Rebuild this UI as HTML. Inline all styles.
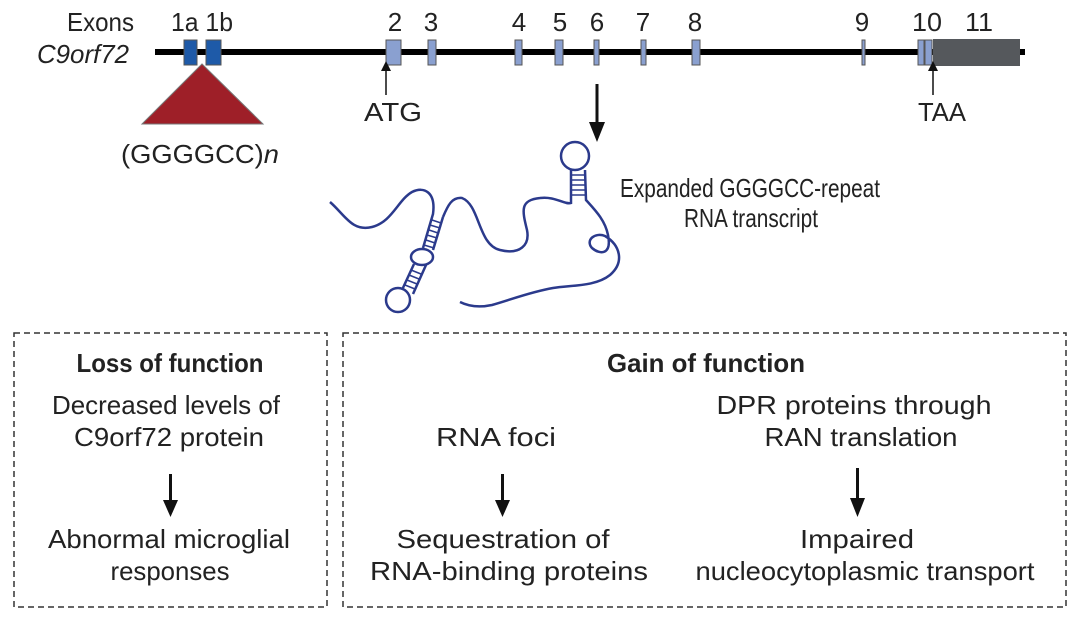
<!DOCTYPE html>
<html><head><meta charset="utf-8"><style>
html,body{margin:0;padding:0;background:#fff;}
svg{display:block;}
text{font-family:"Liberation Sans",sans-serif;fill:#222;font-size:26px;}
</style></head><body>
<svg width="1079" height="622" viewBox="0 0 1079 622" xmlns="http://www.w3.org/2000/svg">
<defs><marker id="ah" markerWidth="10" markerHeight="10" refX="5" refY="5" orient="auto" markerUnits="userSpaceOnUse"><path d="M0,0 L10,5 L0,10 z" fill="#111"/></marker></defs>
<!-- labels -->
<text x="67" y="31" textLength="67" lengthAdjust="spacingAndGlyphs">Exons</text>
<text x="37" y="63" font-style="italic" textLength="92" lengthAdjust="spacingAndGlyphs">C9orf72</text>
<text x="171" y="31" textLength="62" lengthAdjust="spacingAndGlyphs">1a 1b</text>
<g font-size="25">
<text x="395" y="31" text-anchor="middle">2</text>
<text x="431" y="31" text-anchor="middle">3</text>
<text x="519" y="31" text-anchor="middle">4</text>
<text x="560" y="31" text-anchor="middle">5</text>
<text x="597" y="31" text-anchor="middle">6</text>
<text x="643" y="31" text-anchor="middle">7</text>
<text x="695" y="31" text-anchor="middle">8</text>
<text x="862" y="31" text-anchor="middle">9</text>
<text x="927" y="31" text-anchor="middle" textLength="30" lengthAdjust="spacingAndGlyphs">10</text>
<text x="979" y="31" text-anchor="middle" textLength="28" lengthAdjust="spacingAndGlyphs">11</text>
</g>
<!-- gene line -->
<rect x="155" y="49" width="870" height="6" fill="#000"/>
<g stroke="#555" stroke-width="1">
<rect x="184" y="40" width="13" height="25" fill="#1e5aa8"/>
<rect x="206" y="40" width="15" height="25" fill="#1e5aa8"/>
<rect x="386" y="40" width="15" height="25" fill="#8aa0d0"/>
<rect x="428" y="40" width="8" height="25" fill="#8aa0d0"/>
<rect x="515" y="40" width="7" height="25" fill="#8aa0d0"/>
<rect x="555" y="40" width="8" height="25" fill="#8aa0d0"/>
<rect x="594" y="40" width="5" height="25" fill="#8aa0d0"/>
<rect x="641" y="40" width="5" height="25" fill="#8aa0d0"/>
<rect x="692" y="40" width="8" height="25" fill="#8aa0d0"/>
<rect x="862" y="40" width="3" height="25" fill="#8aa0d0"/>
<rect x="918" y="40" width="6" height="25" fill="#8aa0d0"/>
<rect x="925" y="40" width="7" height="25" fill="#8aa0d0"/>
</g>
<rect x="933" y="39" width="87" height="27" fill="#55585c"/>
<!-- triangle -->
<polygon points="202,64 142,124 263,124" fill="#9e1f28" stroke="#777" stroke-width="1"/>
<text x="200" y="163" text-anchor="middle" textLength="158" lengthAdjust="spacingAndGlyphs">(GGGGCC)<tspan font-style="italic">n</tspan></text>
<!-- ATG / TAA -->
<line x1="386" y1="95" x2="386" y2="66" stroke="#111" stroke-width="1.5" marker-end="url(#ah)"/>
<text x="393" y="121" text-anchor="middle" textLength="58" lengthAdjust="spacingAndGlyphs">ATG</text>
<line x1="933" y1="95" x2="933" y2="66" stroke="#111" stroke-width="1.5" marker-end="url(#ah)"/>
<text x="942" y="121" text-anchor="middle" textLength="48" lengthAdjust="spacingAndGlyphs">TAA</text>
<!-- down arrow -->
<line x1="597" y1="84" x2="597" y2="128" stroke="#111" stroke-width="3"/>
<polygon points="589,122 605,122 597,142" fill="#111"/>
<text x="750" y="197" text-anchor="middle" textLength="260" lengthAdjust="spacingAndGlyphs">Expanded GGGGCC-repeat</text>
<text x="751" y="227" text-anchor="middle" textLength="134" lengthAdjust="spacingAndGlyphs">RNA transcript</text>
<!-- RNA -->
<g fill="none" stroke="#2b3a8c" stroke-width="2.5">
<path d="M330,202 C345,215 352,232 372,227 C392,222 398,200 412,192 C424,186 436,192 433,214 L423,248"/>
<path d="M443,217 C448,205 452,197 462,198 C480,205 478,245 500,250 C520,255 530,245 527,230 C522,210 520,200 540,198 C555,196 565,205 571,203 L571,170"/>
<path d="M443,217 L433,250"/>
<ellipse cx="422" cy="257" rx="11" ry="8"/>
<path d="M414,264 L402,290 M426,265 L413,294"/>
<circle cx="398" cy="300" r="12"/>
<circle cx="575" cy="156" r="14"/>
<path d="M585,170 L586,200 C595,210 605,220 608,235 C612,255 600,255 592,248 C585,240 595,232 605,236 C620,245 625,262 610,275 C595,287 570,285 553,288 C530,292 510,300 492,305 C478,308 468,306 460,302"/>
<g stroke-width="1.5">
<path d="M432,220 L441,223 M430,225 L440,228 M429,230 L438,233 M427,235 L437,238 M426,240 L435,243 M424,245 L434,248"/>
<path d="M411,270 L421,274 M409,275 L419,279 M407,280 L417,284 M405,285 L415,289"/>
<path d="M571,175 L585,175 M571,180 L585,180 M571,185 L585,185 M571,190 L585,190 M571,195 L585,195"/>
</g>
</g>
<!-- boxes -->
<rect x="14" y="333" width="313" height="274" fill="none" stroke="#333" stroke-width="1.5" stroke-dasharray="6,4"/>
<rect x="343" y="333" width="723" height="274" fill="none" stroke="#333" stroke-width="1.5" stroke-dasharray="6,4"/>
<text x="170" y="372" text-anchor="middle" font-weight="bold" textLength="187" lengthAdjust="spacingAndGlyphs">Loss of function</text>
<text x="166" y="414" text-anchor="middle" textLength="228" lengthAdjust="spacingAndGlyphs">Decreased levels of</text>
<text x="169" y="446" text-anchor="middle" textLength="190" lengthAdjust="spacingAndGlyphs">C9orf72 protein</text>
<text x="169" y="548" text-anchor="middle" textLength="242" lengthAdjust="spacingAndGlyphs">Abnormal microglial</text>
<text x="170" y="580" text-anchor="middle" textLength="119" lengthAdjust="spacingAndGlyphs">responses</text>
<text x="706" y="372" text-anchor="middle" font-weight="bold" textLength="198" lengthAdjust="spacingAndGlyphs">Gain of function</text>
<text x="496" y="446" text-anchor="middle" textLength="120" lengthAdjust="spacingAndGlyphs">RNA foci</text>
<text x="503" y="548" text-anchor="middle" textLength="213" lengthAdjust="spacingAndGlyphs">Sequestration of</text>
<text x="509" y="580" text-anchor="middle" textLength="278" lengthAdjust="spacingAndGlyphs">RNA-binding proteins</text>
<text x="854" y="414" text-anchor="middle" textLength="275" lengthAdjust="spacingAndGlyphs">DPR proteins through</text>
<text x="861" y="446" text-anchor="middle" textLength="193" lengthAdjust="spacingAndGlyphs">RAN translation</text>
<text x="857" y="548" text-anchor="middle" textLength="114" lengthAdjust="spacingAndGlyphs">Impaired</text>
<text x="865" y="580" text-anchor="middle" textLength="339" lengthAdjust="spacingAndGlyphs">nucleocytoplasmic transport</text>
<g fill="#111">
<rect x="169" y="474" width="3" height="30"/><polygon points="163,500 178,500 170.5,517"/>
<rect x="501" y="474" width="3" height="30"/><polygon points="495,500 510,500 502.5,517"/>
<rect x="856" y="468" width="3" height="34"/><polygon points="850,498 865,498 857.5,517"/>
</g>
</svg>
</body></html>
